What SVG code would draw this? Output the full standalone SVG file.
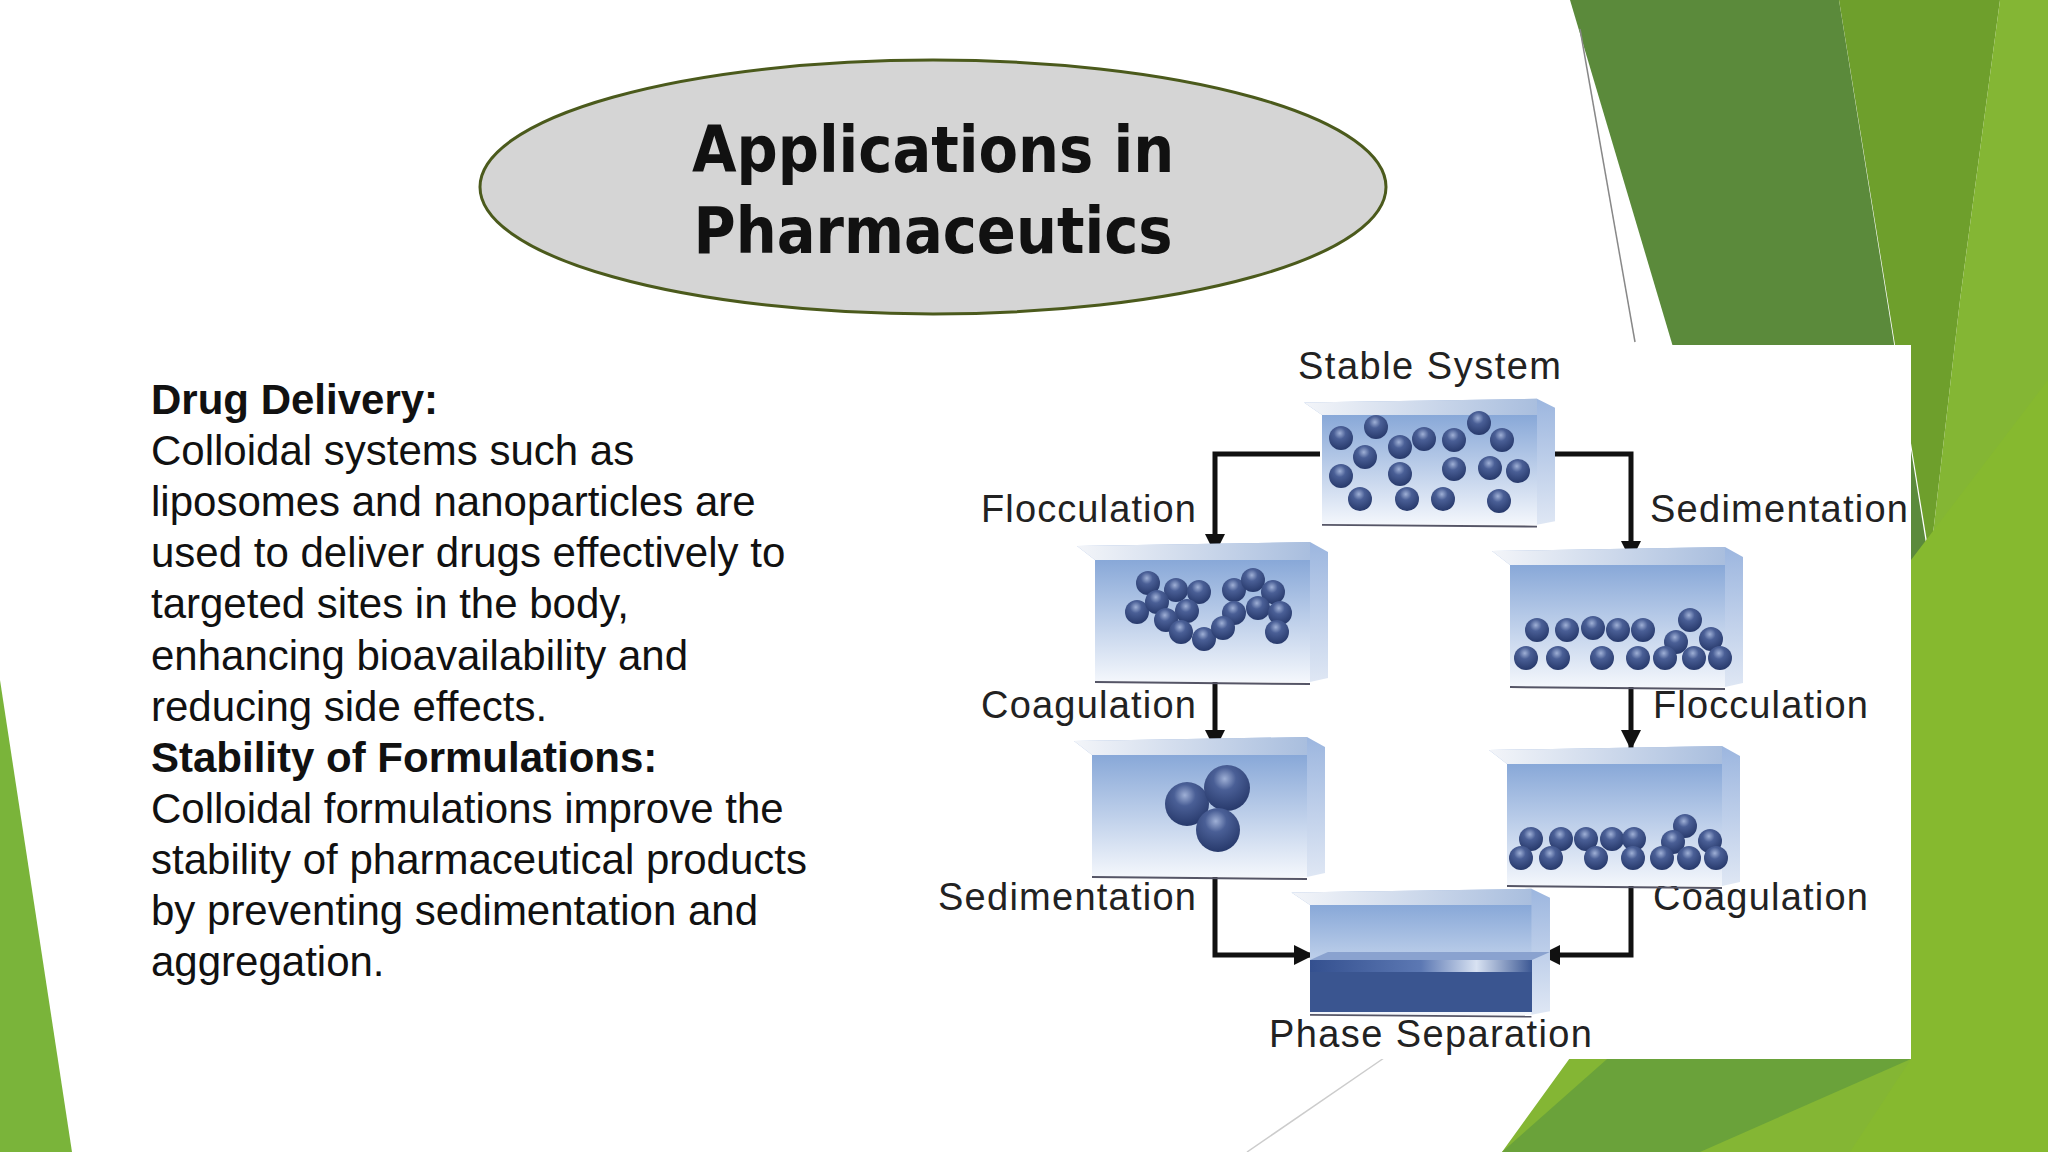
<svg xmlns="http://www.w3.org/2000/svg" width="2048" height="1152" viewBox="0 0 2048 1152">
<defs>
<radialGradient id="ball" cx="0.45" cy="0.3" r="0.7"><stop offset="0" stop-color="#9fb0d6"/><stop offset="0.35" stop-color="#4a5f96"/><stop offset="1" stop-color="#27396b"/></radialGradient>
<linearGradient id="front" x1="0" y1="0" x2="0" y2="1"><stop offset="0" stop-color="#88a8d8"/><stop offset="1" stop-color="#f4f7fc"/></linearGradient>
<linearGradient id="topg" x1="0" y1="0" x2="1" y2="0"><stop offset="0" stop-color="#f3f5f9"/><stop offset="1" stop-color="#a9bede"/></linearGradient>
<linearGradient id="side" x1="0" y1="0" x2="0" y2="1"><stop offset="0" stop-color="#9cb6df"/><stop offset="1" stop-color="#dfe7f4"/></linearGradient>
<linearGradient id="dark" x1="0" y1="0" x2="1" y2="0"><stop offset="0" stop-color="#34508f"/><stop offset="0.5" stop-color="#5c78b3"/><stop offset="0.75" stop-color="#d8e2f2"/><stop offset="1" stop-color="#3c5894"/></linearGradient>
<marker id="ah" viewBox="0 0 10 10" refX="9" refY="5" markerWidth="4" markerHeight="4" orient="auto"><path d="M0,0 L10,5 L0,10 z" fill="#111"/></marker>
<style>
.body{font-family:"Liberation Sans",Arial,sans-serif;font-size:42px;fill:#111}
.b{font-weight:bold}
.lab{font-family:"Liberation Sans",Arial,sans-serif;font-size:38px;fill:#222}
.title{font-family:"DejaVu Sans Condensed","DejaVu Sans",sans-serif;font-stretch:condensed;font-size:64px;font-weight:bold;fill:#111;text-anchor:middle}
.con{fill:none;stroke:#111;stroke-width:5;marker-end:url(#ah)}
</style>
<g id="bx"><polygon points="0,0 -18,-14 215,-18 233,-8 233,118 215,122" fill="url(#side)"/><polygon points="0,0 -18,-14 215,-18 215,0" fill="url(#topg)"/><rect x="0" y="0" width="215" height="122" fill="url(#front)"/><line x1="0" y1="122" x2="215" y2="124" stroke="#556" stroke-width="2"/></g>
</defs>
<rect width="2048" height="1152" fill="#fff"/>
<g id="background">
<polygon points="1570,0 1839,0 1935,600 1760,640" fill="#5b8a3b"/>
<polygon points="1839,0 2000,0 1960,300 1930,560" fill="#6e9f2c"/>
<polygon points="2000,0 2048,0 2048,1152 1502,1152 1930,560 1960,300" fill="#84b634"/>
<polygon points="1502,1152 1911,790 1911,1059 1700,1152" fill="#6aa23a"/>
<polygon points="1911,560 2048,380 2048,1152 1850,1152 1911,1059" fill="#86b92f"/>
<polygon points="0,680 72,1152 0,1152" fill="#7ab43a"/>
<line x1="1580" y1="29" x2="1635" y2="342" stroke="#888" stroke-width="1.5"/>
<line x1="1384" y1="1058" x2="1247" y2="1152" stroke="#ccc" stroke-width="1.5"/>
</g>
<g id="title">
<ellipse cx="933" cy="187" rx="453" ry="127" fill="#d5d5d5" stroke="#4b5a1c" stroke-width="3"/>
<text class="title" x="933" y="172">Applications in</text>
<text class="title" x="933" y="253">Pharmaceutics</text>
</g>
<g id="bodytext">
<text class="body b" x="151" y="414">Drug Delivery:</text>
<text class="body" x="151" y="465">Colloidal systems such as</text>
<text class="body" x="151" y="516">liposomes and nanoparticles are</text>
<text class="body" x="151" y="567">used to deliver drugs effectively to</text>
<text class="body" x="151" y="618">targeted sites in the body,</text>
<text class="body" x="151" y="670">enhancing bioavailability and</text>
<text class="body" x="151" y="721">reducing side effects.</text>
<text class="body b" x="151" y="772">Stability of Formulations:</text>
<text class="body" x="151" y="823">Colloidal formulations improve the</text>
<text class="body" x="151" y="874">stability of pharmaceutical products</text>
<text class="body" x="151" y="925">by preventing sedimentation and</text>
<text class="body" x="151" y="976">aggregation.</text>
</g>
<rect x="930" y="345" width="981" height="714" fill="#fff"/>
<g id="connectors">
<path class="con" d="M1320,454 H1215 V552"/>
<path class="con" d="M1551,454 H1631 V559"/>
<path class="con" d="M1215,667 V748"/>
<path class="con" d="M1631,675 V748"/>
<path class="con" d="M1215,868 V955 H1312"/>
<path class="con" d="M1631,873 V955 H1542"/>
</g>
<g id="labels">
<text class="lab" x="1298" y="379" textLength="263">Stable System</text>
<text class="lab" x="981" y="522" textLength="215">Flocculation</text>
<text class="lab" x="1650" y="522" textLength="258">Sedimentation</text>
<text class="lab" x="981" y="718" textLength="215">Coagulation</text>
<text class="lab" x="1653" y="718" textLength="215">Flocculation</text>
<text class="lab" x="938" y="910" textLength="258">Sedimentation</text>
<text class="lab" x="1653" y="910" textLength="215">Coagulation</text>
<text class="lab" x="1269" y="1047" textLength="323">Phase Separation</text>
</g>
<g id="stable" fill="url(#ball)">
<use href="#bx" transform="translate(1322,415) scale(1,0.9)"/>
<circle cx="1341" cy="438" r="12"/><circle cx="1376" cy="427" r="12"/><circle cx="1424" cy="439" r="12"/><circle cx="1454" cy="440" r="12"/><circle cx="1479" cy="423" r="12"/><circle cx="1502" cy="440" r="12"/><circle cx="1365" cy="457" r="12"/><circle cx="1400" cy="447" r="12"/><circle cx="1341" cy="476" r="12"/><circle cx="1400" cy="474" r="12"/><circle cx="1454" cy="469" r="12"/><circle cx="1490" cy="468" r="12"/><circle cx="1518" cy="471" r="12"/><circle cx="1360" cy="499" r="12"/><circle cx="1407" cy="499" r="12"/><circle cx="1443" cy="499" r="12"/><circle cx="1499" cy="501" r="12"/>
</g>
<g id="floc-left" fill="url(#ball)">
<use href="#bx" transform="translate(1095,560)"/>
<circle cx="1148" cy="583" r="12"/><circle cx="1176" cy="590" r="12"/><circle cx="1199" cy="592" r="12"/><circle cx="1234" cy="590" r="12"/><circle cx="1253" cy="580" r="12"/><circle cx="1273" cy="592" r="12"/><circle cx="1137" cy="612" r="12"/><circle cx="1157" cy="602" r="12"/><circle cx="1187" cy="611" r="12"/><circle cx="1234" cy="613" r="12"/><circle cx="1258" cy="608" r="12"/><circle cx="1280" cy="613" r="12"/><circle cx="1166" cy="620" r="12"/><circle cx="1181" cy="632" r="12"/><circle cx="1204" cy="639" r="12"/><circle cx="1223" cy="628" r="12"/><circle cx="1277" cy="632" r="12"/>
</g>
<g id="sed-right" fill="url(#ball)">
<use href="#bx" transform="translate(1510,565)"/>
<circle cx="1537" cy="630" r="12"/><circle cx="1567" cy="630" r="12"/><circle cx="1593" cy="628" r="12"/><circle cx="1618" cy="630" r="12"/><circle cx="1643" cy="630" r="12"/><circle cx="1690" cy="620" r="12"/><circle cx="1676" cy="642" r="12"/><circle cx="1711" cy="639" r="12"/><circle cx="1526" cy="658" r="12"/><circle cx="1558" cy="658" r="12"/><circle cx="1602" cy="658" r="12"/><circle cx="1638" cy="658" r="12"/><circle cx="1665" cy="658" r="12"/><circle cx="1694" cy="658" r="12"/><circle cx="1720" cy="658" r="12"/>
</g>
<g id="coag-left" fill="url(#ball)">
<use href="#bx" transform="translate(1092,755)"/>
<circle cx="1187" cy="804" r="22"/><circle cx="1227" cy="788" r="23"/><circle cx="1218" cy="830" r="22"/>
</g>
<g id="floc-right" fill="url(#ball)">
<use href="#bx" transform="translate(1507,764)"/>
<circle cx="1531" cy="839" r="12"/><circle cx="1561" cy="839" r="12"/><circle cx="1586" cy="839" r="12"/><circle cx="1612" cy="839" r="12"/><circle cx="1634" cy="839" r="12"/><circle cx="1685" cy="826" r="12"/><circle cx="1673" cy="842" r="12"/><circle cx="1710" cy="841" r="12"/><circle cx="1521" cy="858" r="12"/><circle cx="1551" cy="858" r="12"/><circle cx="1596" cy="858" r="12"/><circle cx="1633" cy="858" r="12"/><circle cx="1662" cy="858" r="12"/><circle cx="1689" cy="858" r="12"/><circle cx="1716" cy="858" r="12"/>
</g>
<g id="phase">
<use href="#bx" transform="translate(1310,905) scale(1.03,0.9)"/>
<polygon points="1310,960 1328,952 1550,952 1532,960" fill="#8aa2cf"/>
<rect x="1310" y="960" width="222" height="52" fill="url(#dark)"/>
<rect x="1310" y="972" width="222" height="40" fill="#3a5590"/>
</g>
</svg>
